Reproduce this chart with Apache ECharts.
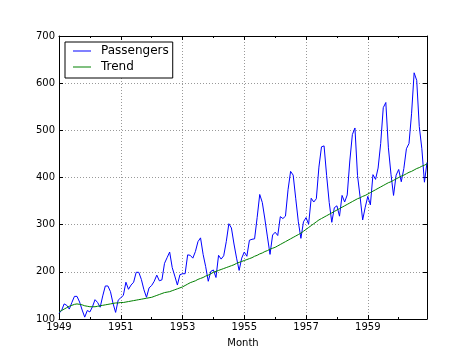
<!DOCTYPE html>
<html>
<head>
<meta charset="utf-8">
<script src="https://cdn.jsdelivr.net/npm/echarts@6/dist/echarts.min.js"></script>
<style>
html,body{margin:0;padding:0;background:#fff;}
#c{width:474px;height:355px;}
</style>
</head>
<body>
<div id="c"></div>
<script>
// Monthly data, Jan 1949 .. Dec 1960
const startYear = 1949;
const years = [1949,1950,1951,1952,1953,1954,1955,1956,1957,1958,1959,1960];
const passengers = [
  112,118,132,129,121,135,148,148,136,119,104,118,
  115,126,141,135,125,149,170,170,158,133,114,140,
  145,150,178,163,172,178,199,199,184,162,146,166,
  171,180,193,181,183,218,230,242,209,191,172,194,
  196,196,236,235,229,243,264,272,237,211,180,201,
  204,188,235,227,234,264,302,293,259,229,203,229,
  242,233,267,269,270,315,364,347,312,274,237,278,
  284,277,317,313,318,374,413,405,355,306,271,306,
  315,301,356,348,355,422,465,467,404,347,305,336,
  340,318,362,348,363,435,491,505,404,359,310,337,
  360,342,406,396,420,472,548,559,463,407,362,405,
  417,391,419,461,472,535,622,606,508,461,390,432
];
const trend = [
  115,118,121,124,127,129,131,132,131,130,128,127,
  126,126,126,127,128,129,130,131,132,133,134,134,
  135,135,136,137,138,139,140,141,142,143,144,145,
  146,148,150,152,154,156,157,158,160,162,164,166,
  168,171,174,177,179,181,184,186,188,191,193,196,
  199,201,203,205,207,209,211,213,215,218,220,222,
  224,226,228,230,233,235,238,240,243,245,248,250,
  252,255,258,261,264,267,270,273,276,279,282,286,
  290,294,298,302,306,310,313,316,319,322,325,328,
  331,334,337,340,343,346,349,352,355,357,360,362,
  365,368,371,374,377,380,383,386,389,391,394,397,
  400,403,405,408,411,413,416,419,421,424,426,429
];
const yTicks = [100,200,300,400,500,600,700];
const xTickLabels = ['1949','1951','1953','1955','1957','1959'];

const toPts = arr => arr.map((v, i) => [i / 12, v]);
const xMax = (passengers.length - 1) / 12;

const font = 'DejaVu Sans';
const chart = echarts.init(document.getElementById('c'), null, {renderer: 'canvas'});

const baseX = {
  type: 'value', min: 0, max: xMax, interval: 2,
  axisLine: {show: true, onZero: false, lineStyle: {color: '#000', width: 1}},
  axisTick: {show: true, inside: true, length: 4, lineStyle: {color: '#000'}},
  minorTick: {show: true, splitNumber: 2, length: 2, lineStyle: {color: '#000'}},
  splitLine: {show: false}
};
const baseY = {
  type: 'value', min: 100, max: 700, interval: 100,
  axisLine: {show: true, onZero: false, lineStyle: {color: '#000', width: 1}},
  axisTick: {show: true, inside: true, length: 4, lineStyle: {color: '#000'}},
  splitLine: {show: false}
};

chart.setOption({
  animation: false,
  backgroundColor: '#fff',
  grid: {left: 59, right: 47, top: 36, bottom: 36, containLabel: false},
  legend: {
    orient: 'vertical', left: 65, top: 42,
    backgroundColor: '#fff',
    borderColor: '#000', borderWidth: 1, borderRadius: 0,
    padding: [3, 4, 5, 8],
    itemGap: 4, itemWidth: 18, itemHeight: 1,
    icon: 'rect',
    textStyle: {fontFamily: font, fontSize: 12, color: '#000', padding: [0, 0, 0, 5]},
    data: ['Passengers', 'Trend']
  },
  xAxis: [
    Object.assign({}, baseX, {
      position: 'bottom',
      name: 'Month', nameLocation: 'middle', nameGap: 19,
      nameTextStyle: {fontFamily: font, fontSize: 10, color: '#000'},
      axisLabel: {show: true, showMaxLabel: false, fontFamily: font, fontSize: 10, color: '#000', margin: 3,
        formatter: v => (v > xMax - 0.5 ? '' : String(startYear + Math.round(v)))},
      splitLine: {show: true, lineStyle: {color: '#999', type: [1, 2], width: 1}}
    }),
    Object.assign({}, baseX, {position: 'top', axisLabel: {show: false}})
  ],
  yAxis: [
    Object.assign({}, baseY, {
      position: 'left',
      axisLabel: {show: true, fontFamily: font, fontSize: 10, color: '#000', margin: 4},
      splitLine: {show: true, lineStyle: {color: '#999', type: [1, 2], width: 1}}
    }),
    Object.assign({}, baseY, {position: 'right', axisLabel: {show: false}})
  ],
  series: [
    {name: 'Passengers', type: 'line', data: toPts(passengers), showSymbol: false, symbol: 'none',
     lineStyle: {color: '#0000ff', width: 1}, itemStyle: {color: '#0000ff'}, z: 3},
    {name: 'Trend', type: 'line', data: toPts(trend), showSymbol: false, symbol: 'none',
     lineStyle: {color: '#008000', width: 1}, itemStyle: {color: '#008000'}, z: 4}
  ]
});
</script>
</body>
</html>
